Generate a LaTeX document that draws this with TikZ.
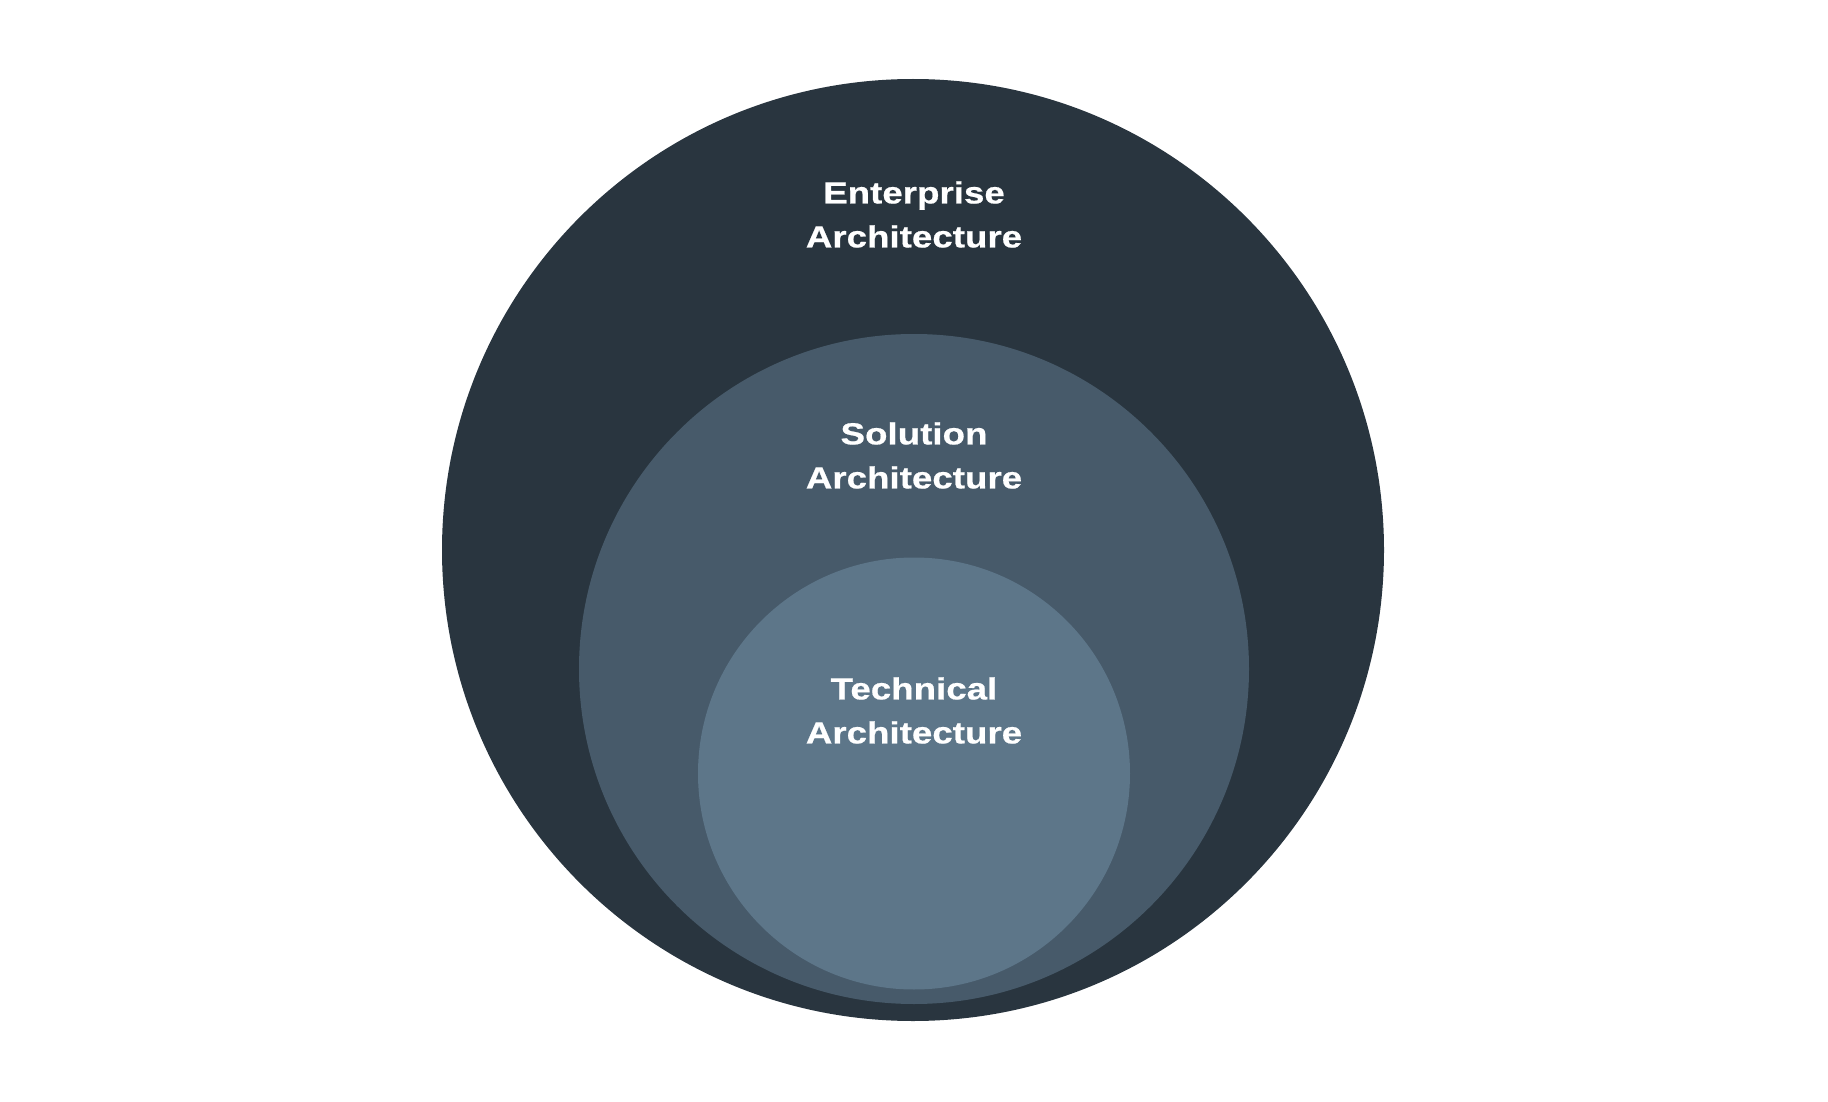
\documentclass[tikz,border=0pt]{standalone}
\usepackage{fontspec}
\newfontfamily\labelfont[FakeStretch=1.2,BoldFeatures={FakeStretch=1.2,FakeBold=0.6}]{Liberation Sans}
\definecolor{entcol}{HTML}{29353F}
\definecolor{solcol}{HTML}{475A6A}
\definecolor{techcol}{HTML}{5D7689}
\begin{document}
\begin{tikzpicture}[x=0.5pt, y=-0.5pt,
    ring/.style={circle, draw=none, inner sep=0pt},
    caption/.style={text=white, align=center, inner sep=0pt,
        font=\labelfont\bfseries\fontsize{15.3pt}{22pt}\selectfont}]
    \useasboundingbox (0,0) rectangle (1828,1102);

    \node[ring, fill=entcol, minimum size=471pt] (ent) at (913,550) {};
    \node[ring, fill=solcol, minimum size=335pt] (sol) at (914,669) {};
    \node[ring, fill=techcol, minimum size=216pt] (tech) at (914,773.5) {};

    \node[caption] (entlabel) at (914,214.5) {Enterprise\\Architecture};
    \node[caption] (sollabel) at (914,455.5) {Solution\\Architecture};
    \node[caption] (techlabel) at (914,710.5) {Technical\\Architecture};
\end{tikzpicture}
\end{document}
